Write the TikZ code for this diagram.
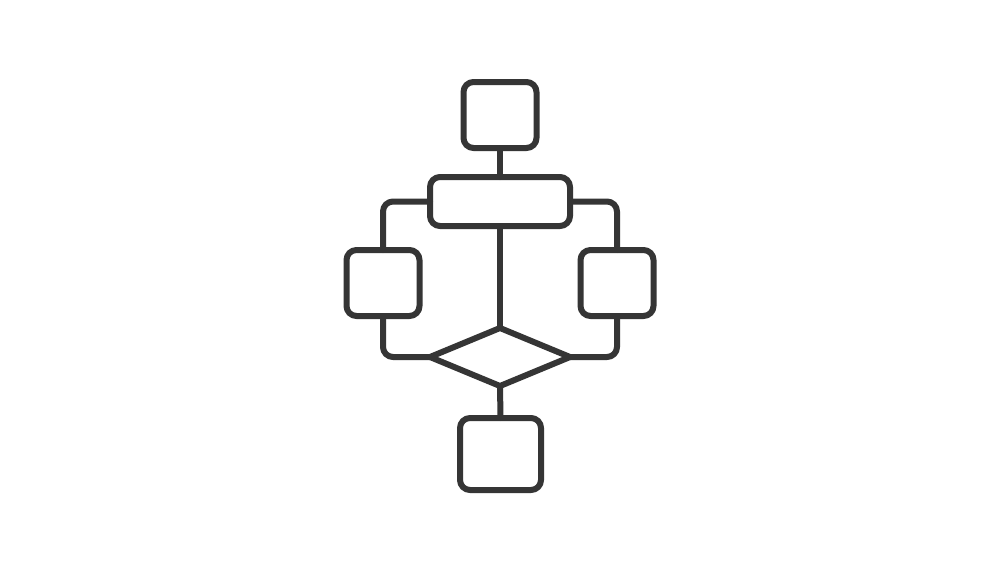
\documentclass[tikz,border=0pt]{standalone}
\usetikzlibrary{shapes.geometric}
\definecolor{ink}{HTML}{353535}
\begin{document}
\begin{tikzpicture}[x=1pt,y=-1pt,
  every path/.style={draw=ink,line width=6pt,line join=round,line cap=round},
  boxshape/.style={draw=ink,line width=6pt,rectangle,rounded corners=10pt,inner sep=0pt,outer sep=0pt},
  decision/.style={draw=ink,line width=6pt,diamond,inner sep=0pt,outer sep=0pt,line join=round},
  link/.style={draw=ink,line width=6pt,rounded corners=10pt}]
\useasboundingbox[fill=white,draw=none] (0,0) rectangle (1000,562);
\node[boxshape,minimum width=73pt,minimum height=66pt] (top) at (500,115) {};
\node[boxshape,minimum width=140pt,minimum height=49pt] (mid) at (500,201.5) {};
\node[boxshape,minimum width=73pt,minimum height=66pt] (left) at (383,283) {};
\node[boxshape,minimum width=73pt,minimum height=66pt] (right) at (617,283) {};
\node[decision,minimum width=140pt,minimum height=58pt] (dec) at (500,357) {};
\node[boxshape,minimum width=81pt,minimum height=72pt] (bot) at (500.5,454) {};
\draw[link] (top.south) -- (mid.north);
\draw[link] (mid.west) -| (left.north);
\draw[link] (mid.east) -| (right.north);
\draw[link] (mid.south) -- (dec.north);
\draw[link] (left.south) |- (dec.west);
\draw[link] (right.south) |- (dec.east);
\draw[link] (dec.south) -- (bot.north);
\end{tikzpicture}
\end{document}
